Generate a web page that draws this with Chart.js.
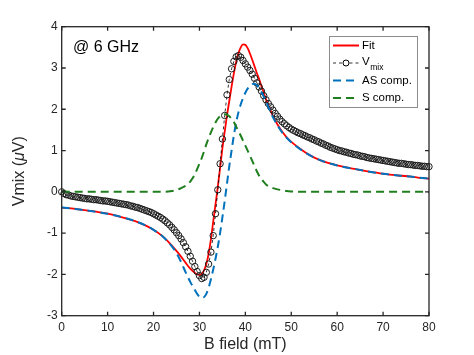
<!DOCTYPE html>
<html><head><meta charset="utf-8">
<script src="https://cdn.jsdelivr.net/npm/chart.js@4/dist/chart.umd.min.js"></script>
<style>html,body{margin:0;padding:0;background:#fff;overflow:hidden}#wrap{width:474px;height:355px;position:relative}</style>
</head><body><div id="wrap"><canvas id="c" width="474" height="355"></canvas></div>
<script>
// ---- data ----
const bField = [
 0,0.5,1,1.5,2,2.5,3,3.5,4,4.5, 5,5.5,6,6.5,7,7.5,8,8.5,9,9.5,
 10,10.5,11,11.5,12,12.5,13,13.5,14,14.5, 15,15.5,16,16.5,17,17.5,18,18.5,19,19.5,
 20,20.5,21,21.5,22,22.5,23,23.5,24,24.5, 25,25.5,26,26.5,27,27.5,28,28.5,29,29.5,
 30,30.5,31,31.5,32,32.5,33,33.5,34,34.5, 35,35.5,36,36.5,37,37.5,38,38.5,39,39.5,
 40,40.5,41,41.5,42,42.5,43,43.5,44,44.5, 45,45.5,46,46.5,47,47.5,48,48.5,49,49.5,
 50,50.5,51,51.5,52,52.5,53,53.5,54,54.5, 55,55.5,56,56.5,57,57.5,58,58.5,59,59.5,
 60,60.5,61,61.5,62,62.5,63,63.5,64,64.5, 65,65.5,66,66.5,67,67.5,68,68.5,69,69.5,
 70,70.5,71,71.5,72,72.5,73,73.5,74,74.5, 75,75.5,76,76.5,77,77.5,78,78.5,79,79.5, 80];
const vmix = [
 0.00,-0.04,-0.07,-0.08,-0.10,-0.11,-0.12,-0.13,-0.14,-0.15,
 -0.16,-0.17,-0.17,-0.18,-0.19,-0.19,-0.20,-0.21,-0.22,-0.22,
 -0.23,-0.24,-0.25,-0.26,-0.27,-0.28,-0.29,-0.30,-0.31,-0.32,
 -0.34,-0.35,-0.37,-0.38,-0.40,-0.42,-0.44,-0.46,-0.48,-0.50,
 -0.53,-0.56,-0.59,-0.62,-0.66,-0.70,-0.75,-0.80,-0.86,-0.92,
 -0.99,-1.06,-1.14,-1.23,-1.33,-1.44,-1.56,-1.68,-1.81,-1.93,
 -2.03,-2.10,-2.07,-1.95,-1.75,-1.46,-1.06,-0.53,0.05,0.68,
 1.28,1.85,2.35,2.72,2.98,3.16,3.27,3.30,3.26,3.18,
 3.10,3.02,2.94,2.85,2.75,2.64,2.54,2.44,2.33,2.23,
 2.14,2.06,1.98,1.90,1.83,1.76,1.70,1.65,1.60,1.56,
 1.52,1.49,1.46,1.43,1.41,1.38,1.36,1.33,1.31,1.28,
 1.26,1.23,1.21,1.18,1.16,1.13,1.11,1.08,1.06,1.04,
 1.02,1.00,0.99,0.97,0.96,0.94,0.93,0.91,0.90,0.89,
 0.87,0.86,0.85,0.83,0.82,0.81,0.80,0.79,0.78,0.77,
 0.76,0.75,0.74,0.73,0.72,0.71,0.70,0.69,0.69,0.68,
 0.67,0.66,0.66,0.65,0.64,0.64,0.63,0.62,0.62,0.61, 0.61];
const curveB = [0,2,4,6,8,10,12,14,16,18,20,22,
 24,25,26,27,28,29,
 29.5,30,30.5,31,31.5,32,32.5,33,33.5,34,34.5,35,35.5,36,36.5,37,37.5,38,38.5,39,39.5,40,40.5,41,41.5,42,42.5,43,43.5,44,44.5,45,
 46,47,48,49,50,
 52,54,56,58,60,62,64,66,68,70,72,74,76,78,80];
const fitV = [-0.38,-0.40,-0.43,-0.46,-0.49,-0.53,-0.58,-0.64,-0.71,-0.80,-0.92,-1.08,
 -1.30,-1.43,-1.57,-1.72,-1.86,-1.96,
 -2.00,-2.01,-1.98,-1.90,-1.75,-1.50,-1.15,-0.72,-0.30,0.12,0.58,1.05,1.45,1.85,2.20,2.55,2.87,3.15,3.36,3.50,3.57,3.56,3.48,3.35,3.20,3.04,2.88,2.73,2.56,2.40,2.24,2.10,
 1.84,1.63,1.46,1.32,1.21,
 1.04,0.89,0.78,0.70,0.64,0.59,0.55,0.51,0.47,0.44,0.41,0.39,0.37,0.34,0.32];
const asComp = [-0.38,-0.40,-0.43,-0.46,-0.49,-0.53,-0.58,-0.64,-0.71,-0.80,-0.92,-1.08,
 -1.32,-1.48,-1.70,-1.95,-2.18,-2.38,
 -2.47,-2.54,-2.57,-2.55,-2.47,-2.32,-2.12,-1.88,-1.62,-1.33,-1.00,-0.62,-0.22,0.20,0.62,1.00,1.37,1.68,1.93,2.12,2.27,2.40,2.50,2.57,2.61,2.62,2.58,2.51,2.42,2.31,2.19,2.06,
 1.81,1.61,1.44,1.31,1.20,
 1.03,0.89,0.78,0.70,0.64,0.59,0.55,0.51,0.47,0.44,0.41,0.39,0.37,0.34,0.32];
const sComp = [0,0,0,0,0,0,0,0,0,0,0,0,
 0.02,0.04,0.09,0.15,0.25,0.42,
 0.55,0.68,0.82,0.98,1.15,1.30,1.44,1.57,1.68,1.77,1.83,1.87,1.88,1.87,1.83,1.77,1.69,1.58,1.47,1.36,1.24,1.12,1.00,0.88,0.75,0.62,0.50,0.39,0.31,0.24,0.18,0.14,
 0.09,0.06,0.04,0.02,0.01,
 0,0,0,0,0,0,0,0,0,0,0,0,0,0,0];
const xTicks = [0,10,20,30,40,50,60,70,80];
const yTicks = [-3,-2,-1,0,1,2,3,4];
const seriesNames = ['Fit','V','AS comp.','S comp.'];
const vmixSub = 'mix';
const annotationText = '@ 6 GHz';
const xTitle = 'B field (mT)';
const yTitleParts = ['Vmix (', '\u03bc', 'V)'];

const FONT = '"Liberation Sans", Arial, Helvetica, sans-serif';
const INK = '#262626';
const RED = '#ff0000', BLUE = '#0072bd', GREEN = '#1f7f1f';
const pts = (xs, ys) => xs.map((v, i) => ({x: v, y: ys[i]}));

const overlay = {
  id: 'overlay',
  afterDatasetsDraw(chart) {
    const {ctx, chartArea: a, scales: {x, y}} = chart;
    ctx.save();
    // frame + inward ticks
    ctx.strokeStyle = INK; ctx.lineWidth = 1.3; ctx.setLineDash([]);
    ctx.strokeRect(a.left, a.top, a.right - a.left, a.bottom - a.top);
    ctx.beginPath();
    const tl = 4;
    xTicks.forEach(v => { const px = x.getPixelForValue(v);
      ctx.moveTo(px, a.bottom); ctx.lineTo(px, a.bottom - tl);
      ctx.moveTo(px, a.top); ctx.lineTo(px, a.top + tl); });
    yTicks.forEach(v => { const py = y.getPixelForValue(v);
      ctx.moveTo(a.left, py); ctx.lineTo(a.left + tl, py);
      ctx.moveTo(a.right, py); ctx.lineTo(a.right - tl, py); });
    ctx.stroke();

    // annotation
    ctx.fillStyle = '#000';
    ctx.font = '16px ' + FONT;
    ctx.textBaseline = 'middle'; ctx.textAlign = 'left';
    ctx.fillText(annotationText, 73, 48);

    // axis titles
    ctx.fillStyle = INK;
    ctx.textAlign = 'center';
    ctx.font = '16px ' + FONT;
    ctx.fillText(xTitle, (a.left + a.right) / 2, 345);
    ctx.save();
    ctx.translate(20, (a.top + a.bottom) / 2);
    ctx.rotate(-Math.PI / 2);
    const fonts = ['16px ' + FONT, 'italic 16px ' + FONT, '16px ' + FONT];
    let widths = yTitleParts.map((t, i) => { ctx.font = fonts[i]; return ctx.measureText(t).width; });
    let tx = -widths.reduce((s, w) => s + w, 0) / 2;
    ctx.textAlign = 'left';
    yTitleParts.forEach((t, i) => { ctx.font = fonts[i]; ctx.fillText(t, tx, 0); tx += widths[i]; });
    ctx.restore();

    // legend
    const L = 329.5, T = 36.5, R = 417.5, B = 107.5;
    ctx.fillStyle = '#fff';
    ctx.fillRect(L, T, R - L, B - T);
    ctx.strokeStyle = '#8c8c8c'; ctx.lineWidth = 1;
    ctx.strokeRect(L, T, R - L, B - T);
    const rows = [45.5, 63, 80.5, 98];
    const x0 = 333, x1 = 359, tx0 = 362;
    ctx.font = '11.5px ' + FONT; ctx.textAlign = 'left'; ctx.textBaseline = 'middle';
    // Fit
    ctx.strokeStyle = RED; ctx.lineWidth = 2; ctx.setLineDash([]);
    ctx.beginPath(); ctx.moveTo(x0, rows[0]); ctx.lineTo(x1, rows[0]); ctx.stroke();
    // Vmix
    ctx.strokeStyle = '#000'; ctx.lineWidth = 0.8; ctx.setLineDash([3, 3]);
    ctx.beginPath(); ctx.moveTo(x0, rows[1]); ctx.lineTo(342.5, rows[1]); ctx.moveTo(349.5, rows[1]); ctx.lineTo(x1, rows[1]); ctx.stroke();
    ctx.setLineDash([]); ctx.lineWidth = 1;
    ctx.beginPath(); ctx.arc(346, rows[1], 3, 0, Math.PI * 2); ctx.stroke();
    // AS
    ctx.strokeStyle = BLUE; ctx.lineWidth = 2; ctx.setLineDash([8, 5]);
    ctx.beginPath(); ctx.moveTo(x0, rows[2]); ctx.lineTo(x1, rows[2]); ctx.stroke();
    // S
    ctx.strokeStyle = GREEN;
    ctx.beginPath(); ctx.moveTo(x0, rows[3]); ctx.lineTo(x1, rows[3]); ctx.stroke();
    ctx.setLineDash([]);
    ctx.fillStyle = '#000';
    ctx.fillText(seriesNames[0], tx0, rows[0]);
    ctx.fillText(seriesNames[1], tx0, rows[1] - 1);
    const vw = ctx.measureText(seriesNames[1]).width;
    ctx.font = '8.5px ' + FONT;
    ctx.fillText(vmixSub, tx0 + vw + 0.5, rows[1] + 4.5);
    ctx.font = '11.5px ' + FONT;
    ctx.fillText(seriesNames[2], tx0, rows[2]);
    ctx.fillText(seriesNames[3], tx0, rows[3]);
    ctx.restore();
  }
};

new Chart(document.getElementById('c'), {
  type: 'line',
  data: {
    datasets: [
      { label: 'Fit', data: pts(curveB, fitV), borderColor: RED, borderWidth: 1.8,
        pointRadius: 0, cubicInterpolationMode: 'monotone', fill: false, order: 4 },
      { label: 'Vmix', data: pts(bField, vmix), borderColor: '#000', borderWidth: 0.8,
        borderDash: [3, 3], pointRadius: 3.2, pointBorderWidth: 1, pointBorderColor: '#1a1a1a',
        pointBackgroundColor: 'rgba(0,0,0,0)', pointStyle: 'circle', tension: 0, fill: false,
        clip: false, order: 3 },
      { label: 'AS comp.', data: pts(curveB, asComp), borderColor: BLUE, borderWidth: 2,
        borderDash: [8, 5], pointRadius: 0, cubicInterpolationMode: 'monotone', fill: false, order: 2 },
      { label: 'S comp.', data: pts(curveB, sComp), borderColor: GREEN, borderWidth: 2,
        borderDash: [8, 5], pointRadius: 0, cubicInterpolationMode: 'monotone', fill: false, order: 1 }
    ]
  },
  options: {
    responsive: false, animation: false, devicePixelRatio: 1,
    layout: { padding: { left: 0, top: 26.7, right: 45, bottom: 0 } },
    plugins: { legend: { display: false }, tooltip: { enabled: false } },
    events: [],
    scales: {
      x: { type: 'linear', min: 0, max: 80,
        afterBuildTicks: s => { s.ticks = xTicks.map(v => ({value: v})); },
        afterFit: s => { s.height = 39.3; },
        grid: { display: false, drawTicks: false }, border: { display: false },
        ticks: { autoSkip: false, maxRotation: 0, padding: 5, color: INK,
          font: { family: FONT, size: 12 } } },
      y: { type: 'linear', min: -3, max: 4,
        afterBuildTicks: s => { s.ticks = yTicks.map(v => ({value: v})); },
        afterFit: s => { s.width = 61.7; },
        grid: { display: false, drawTicks: false }, border: { display: false },
        ticks: { autoSkip: false, padding: 4, color: INK,
          font: { family: FONT, size: 12 } } }
    }
  },
  plugins: [overlay]
});
</script>
</body></html>
